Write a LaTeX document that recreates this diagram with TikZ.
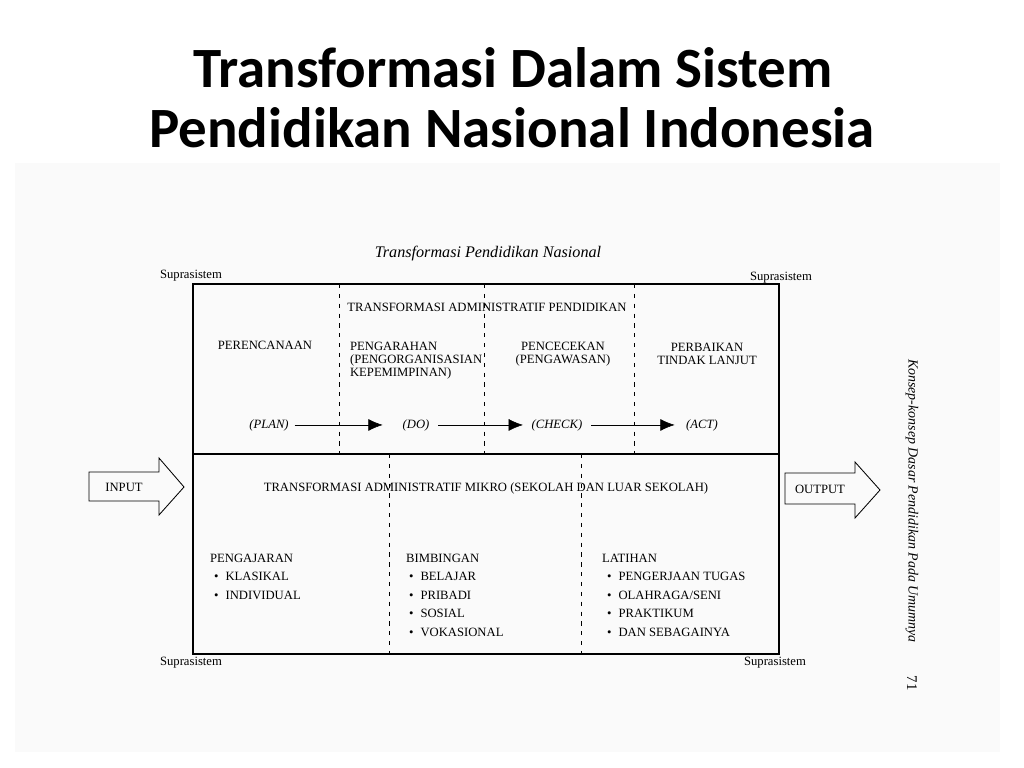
\documentclass[tikz,border=0pt]{standalone}
\usepackage{fontspec}
\setmainfont{Liberation Serif}
\newfontfamily\titlefont{Carlito}
\usetikzlibrary{arrows.meta}

\tikzset{%
  slide title/.style={
    font=\titlefont\bfseries\fontsize{40.5}{40.5}\selectfont,
    anchor=base,
    inner sep=0pt
  },
  page text/.style={
    font=\fontsize{9}{9}\selectfont,
    anchor=base,
    inner sep=2pt
  },
  supra/.style={
    font=\fontsize{9}{10}\selectfont,
    anchor=base
  },
  pdca/.style={
    font=\itshape\fontsize{9}{11}\selectfont,
    anchor=base,
    inner sep=2pt
  },
  side note/.style={
    font=\itshape\fontsize{9.9}{12}\selectfont,
    rotate=-90
  },
  frame/.style={line width=0.8pt},
  divider/.style={line width=0.6pt, dash pattern=on 3pt off 4pt},
  block arrow/.style={draw, line width=0.6pt, line join=miter},
}

\begin{document}
\begin{tikzpicture}[x=0.025cm, y=-0.025cm, >={Latex[length=3.6mm,width=3mm]}]
\useasboundingbox (0,0) rectangle (1024,768);

% scanned page
\fill[black!2] (15,163) rectangle (1000,752);

\node [slide title] (title-1) at (513,88) {Transformasi Dalam Sistem};
\node [slide title] (title-2) at (512,148) {Pendidikan Nasional Indonesia};

\node [font=\itshape\fontsize{11.5}{13}\selectfont, anchor=base] (heading) at (488,257)
  {Transformasi Pendidikan Nasional};

\node [supra] (supra-1) at (191,278) {Suprasistem};
\node [supra] (supra-2) at (781,280) {Suprasistem};
\node [supra] (supra-3) at (191,665) {Suprasistem};
\node [supra] (supra-4) at (775,665) {Suprasistem};

% system box
\draw [frame] (193,284) rectangle (779,654);
\draw [frame] (193,454) -- (779,454);
\foreach \x in {339,484,634}
  \draw [divider] (\x,284) -- (\x,454);
\foreach \x in {389,581}
  \draw [divider] (\x,454) -- (\x,654);

% upper part (multi-line nodes sit on their last baseline)
\node [page text] (admin) at (487,311) {TRANSFORMASI ADMINISTRATIF PENDIDIKAN};
\node [page text] (plan-text) at (265,349) {PERENCANAAN};
\node [page text, anchor=base west, align=left] (do-text) at (347,376)
  {PENGARAHAN\\(PENGORGANISASIAN\\KEPEMIMPINAN)};
\node [page text, align=center] (check-text) at (563,363)
  {PENCECEKAN\\(PENGAWASAN)};
\node [page text, align=center] (act-text) at (707,364)
  {PERBAIKAN\\TINDAK LANJUT};

\foreach \m/\x in {PLAN/269,DO/416,CHECK/557,ACT/702}
  \node [pdca] (\m) at (\x,428) {(\m)};

\draw [->, shorten <=2pt, shorten >=12pt] (PLAN) -- (DO);
\draw [->, shorten <=4pt, shorten >=4pt] (DO) -- (CHECK);
\draw [->, shorten <=4pt, shorten >=6pt] (CHECK) -- (ACT);

% lower part
\node [page text] (mikro) at (486,491)
  {TRANSFORMASI ADMINISTRATIF MIKRO (SEKOLAH DAN LUAR SEKOLAH)};

\node [page text, anchor=base west] (ajar) at (207,562) {PENGAJARAN};
\foreach \t [count=\i] in {KLASIKAL,INDIVIDUAL}
  \node [page text, anchor=base west] (ajar-\i) at (211,562+\i*18.5)
    {\textbullet\hspace{5pt}\t};

\node [page text, anchor=base west] (bimbing) at (403,562) {BIMBINGAN};
\foreach \t [count=\i] in {BELAJAR,PRIBADI,SOSIAL,VOKASIONAL}
  \node [page text, anchor=base west] (bimbing-\i) at (406,562+\i*18.5)
    {\textbullet\hspace{5pt}\t};

\node [page text, anchor=base west] (latih) at (599,562) {LATIHAN};
\foreach \t [count=\i] in {PENGERJAAN TUGAS,OLAHRAGA/SENI,PRAKTIKUM,DAN SEBAGAINYA}
  \node [page text, anchor=base west] (latih-\i) at (604,562+\i*18.5)
    {\textbullet\hspace{5pt}\t};

% input and output
\draw [block arrow] (89,472) -- (159,472) -- (159,458) -- (184,487)
  -- (159,515) -- (159,501) -- (89,501) -- cycle;
\node [page text] (input) at (124,491) {INPUT};

\draw [block arrow] (785,473) -- (855,473) -- (855,462) -- (880,490)
  -- (855,518) -- (855,504) -- (785,504) -- cycle;
\node [page text] (output) at (820,493) {OUTPUT};

% page margin
\node [side note] (book) at (912,501) {Konsep-konsep Dasar Pendidikan Pada Umumnya};
\node [side note, font=\fontsize{10.5}{12}\selectfont] (page) at (912,683) {71};

\end{tikzpicture}
\end{document}
